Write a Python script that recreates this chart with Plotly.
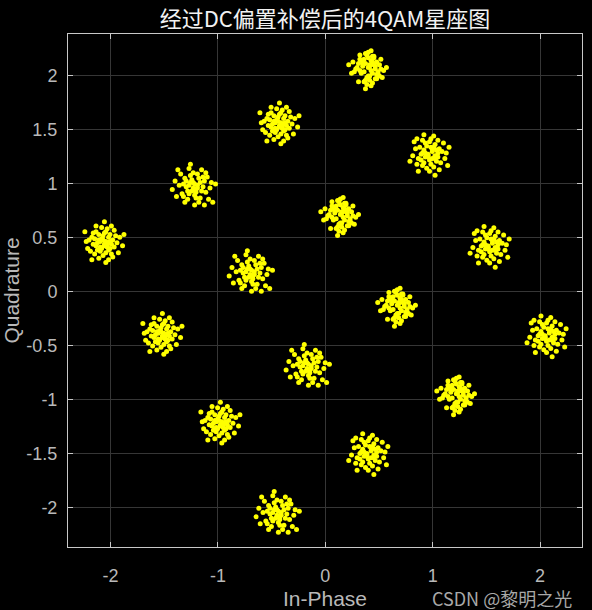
import plotly.graph_objects as go

# Cluster centres (In-Phase, Quadrature)
center_i = [0.40, -0.44, 0.97, -1.23, 0.14, -2.07, 1.53, -0.70,
            0.67, -1.53, 2.06, -0.17, 1.22, -0.99, 0.40, -0.45]
center_q = [2.06, 1.55, 1.27, 0.97, 0.70, 0.45, 0.42, 0.17,
            -0.14, -0.40, -0.41, -0.70, -0.96, -1.22, -1.50, -2.06]

# Hand-read scatter offsets around a centre (unit = 0.013)
pattern_1 = [(0,1),(3,-3),(-2,4),(5,0),(-4,2),(1,-5),(-6,-1),(2,6),(7,-2),(-3,7),(4,3),(-1,-6),(-8,1),(6,-4),(0,8),
             (-5,-3),(3,5),(9,0),(-2,-8),(1,2),(-7,4),(5,-7),(-4,6),(2,-1),(8,3),(-10,-2),(4,9),(-3,-9),(0,-5),(6,5),
             (-1,10),(11,-1),(-6,7),(3,-10),(-9,0),(1,3),(7,-4),(-2,11),(5,2),(-12,-3),(2,-12),(-5,6),(10,-6),(0,12),
             (-3,-2),(4,8),(-7,-9),(13,1),(-1,-11),(6,-7),(-4,4),(2,13),(-11,5),(8,-5),(-2,-14),(3,9),(-6,10),(1,-8),
             (9,7),(-14,3)]
pattern_2 = [(1,-1),(-3,2),(4,4),(-1,-4),(2,1),(-5,-2),(6,-1),(0,5),(-2,-6),(3,-3),(-6,3),(5,6),(-4,-5),(1,7),(7,2),
             (-7,-1),(2,-7),(-1,3),(4,-5),(-3,6),(8,-3),(-8,4),(0,-9),(5,1),(-5,8),(9,5),(-2,-3),(3,10),(-9,-6),(6,-8),
             (-4,0),(1,-2),(10,0),(-6,-8),(2,8),(-10,2),(7,-10),(-1,11),(4,-12),(-11,-4),(12,4),(-3,-11),(0,2),(3,-1),
             (-2,1),(5,-4),(-7,7),(8,9),(-12,1),(11,-7),(-5,12),(2,-14),(14,-2),(-8,-12),(6,12),(-13,8),(1,15),(15,6)]
pattern_3 = [(-1,0),(2,2),(-3,-2),(4,-1),(0,-4),(-4,3),(3,5),(6,1),(-2,6),(1,-7),(-6,-4),(5,-5),(-5,1),(7,4),(-1,-2),
             (2,-3),(0,9),(-8,-3),(8,-6),(-3,8),(4,7),(-7,5),(3,-9),(9,2),(-9,-7),(-2,-10),(6,10),(-10,4),(11,-3),(1,11),
             (-4,-6),(5,3),(-6,0),(0,-12),(10,8),(-12,-1),(7,-11),(-5,10),(12,1),(-11,9),(3,13),(-8,-12),(13,-8),(-1,-1),
             (2,4),(-3,1),(4,-3),(1,5),(-5,-8),(6,-2),(-9,11),(14,5),(-14,-5),(4,-15),(-4,14)]
pattern_4 = [(0,-1),(-2,3),(3,1),(-4,-3),(2,-4),(5,3),(-1,5),(-5,0),(1,-6),(6,-3),(-3,-5),(4,6),(-7,2),(7,0),(-2,8),
             (2,-8),(-6,6),(8,4),(-8,-5),(5,-8),(0,10),(-4,-9),(9,-4),(-10,1),(3,9),(10,7),(-6,-11),(-9,9),(6,12),(11,-9),
             (-12,-7),(1,-13),(12,-1),(-3,13),(-13,4),(4,-11),(0,3),(-1,-3),(3,-1),(-3,1),(1,2),(2,-2),(-5,4),(7,7),
             (-7,-7),(9,10),(13,3),(-11,12),(-15,-2),(8,-13),(14,-11),(-2,16),(16,2)]
patterns = [pattern_1, pattern_2, pattern_3, pattern_4]
OFFSET_UNIT = 0.013

x_ticks = [-2, -1, 0, 1, 2]
y_ticks = [-2, -1.5, -1, -0.5, 0, 0.5, 1, 1.5, 2]
y_tick_text = ["-2", "-1.5", "-1", "-0.5", "0", "0.5", "1", "1.5", "2"]

xs, ys = [], []
for k, (ci, cq) in enumerate(zip(center_i, center_q)):
    for dx, dy in patterns[k % 4]:
        xs.append(ci + dx * OFFSET_UNIT)
        ys.append(cq + dy * OFFSET_UNIT)

fig = go.Figure(go.Scatter(
    x=xs, y=ys, mode="markers",
    marker=dict(color="#ffff00", size=5, line=dict(width=0)),
    hoverinfo="x+y",
))

W, H = 592, 610
L, R, T, B = 68, 10, 34, 63
pw, ph = W - L - R, H - T - B

axis_common = dict(
    automargin=False,
    showgrid=True, gridcolor="#363636", gridwidth=1,
    zeroline=False,
    showline=True, linecolor="#c8c8c8", linewidth=1, mirror="ticks",
    ticks="inside", ticklen=5, tickcolor="#c8c8c8", tickwidth=1,
    tickfont=dict(family="Liberation Sans, Arial, sans-serif", size=18, color="#b9b9b9"),
)

fig.update_layout(
    width=W, height=H,
    margin=dict(l=L, r=R, t=T, b=B),
    paper_bgcolor="black", plot_bgcolor="black",
    showlegend=False,
    title=dict(
        text="经过DC偏置补偿后的4QAM星座图",
        font=dict(family="Noto Sans CJK SC, sans-serif", size=22, color="#f2f2f2"),
        x=(L + pw / 2) / W, xanchor="center",
        y=1 - 19 / H, yanchor="middle",
    ),
    xaxis=dict(
        range=[-2.396, 2.39], tickvals=x_ticks,
        ticktext=[str(v) for v in x_ticks],
        ticklabelstandoff=12,
        title=dict(text="In-Phase", standoff=6,
                   font=dict(family="Liberation Sans, Arial, sans-serif", size=21, color="#b9b9b9")),
        **axis_common,
    ),
    yaxis=dict(
        range=[-2.366, 2.384], tickvals=y_ticks, ticktext=y_tick_text,
        ticklabelstandoff=6,
        title=dict(text="Quadrature", standoff=4,
                   font=dict(family="Liberation Sans, Arial, sans-serif", size=21, color="#b9b9b9")),
        **axis_common,
    ),
)

fig.add_annotation(
    text="CSDN @黎明之光",
    xref="paper", yref="paper",
    x=(574 - L) / pw, y=-(598 - (T + ph)) / ph,
    xanchor="right", yanchor="middle", showarrow=False,
    font=dict(family="Noto Sans CJK SC, sans-serif", size=18, color="#a8a8a8"),
)

fig.write_html(
    "out.html",
    config={"displayModeBar": False},
    post_script="document.body.style.margin='0';document.body.style.background='black';"
                "document.documentElement.style.overflow='hidden';",
)
